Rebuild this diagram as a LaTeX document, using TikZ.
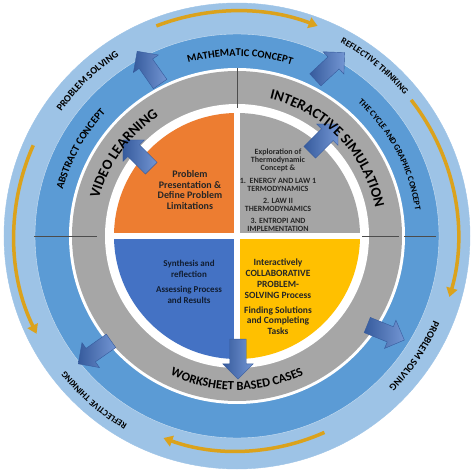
\documentclass[tikz,border=0pt]{standalone}
\usepackage{fontspec}
\setmainfont{Carlito}
\usetikzlibrary{decorations.text}
\usetikzlibrary{shapes.arrows}
\usetikzlibrary{arrows.meta}
\definecolor{outerblue}{HTML}{9DC3E6}
\definecolor{midblue}{HTML}{5B9BD5}
\definecolor{ringgray}{HTML}{A6A6A6}
\definecolor{quadorange}{HTML}{ED7D31}
\definecolor{quadgray}{HTML}{A5A5A5}
\definecolor{quadblue}{HTML}{4472C4}
\definecolor{quadyellow}{HTML}{FFC000}
\definecolor{goldarrow}{HTML}{DBA21C}
\definecolor{arrowblue}{HTML}{4472C4}
\newcommand{\bigringfont}{\bfseries\fontsize{14.5}{14.5}\selectfont}
\newcommand{\caseringfont}{\bfseries\fontsize{12.5}{12.5}\selectfont}
\newcommand{\midringfont}{\bfseries\fontsize{10.5}{10.5}\selectfont}
\newcommand{\cycleringfont}{\bfseries\fontsize{8.5}{8.5}\selectfont}
\newcommand{\outerringfont}{\bfseries\fontsize{10}{10}\selectfont}
\newcommand{\thinkringfont}{\bfseries\fontsize{9}{9}\selectfont}
\tikzset{x=1pt,y=1pt,
    ringlabel/.style={
        decorate,
        decoration={text along path,text align=center,text={#1}}},
    quadtext/.style={
        align=center,
        inner sep=0pt},
    blockarrow/.style={
        single arrow,
        draw=arrowblue!80!black,
        left color=arrowblue!80!black,
        right color=arrowblue!75!white,
        minimum height=40pt,
        minimum width=30pt,
        single arrow head extend=7pt,
        inner xsep=0pt,
        inner ysep=8pt},
    goldcurve/.style={
        draw=goldarrow,
        line width=3.5pt,
        -{Triangle[length=9pt,width=11pt]}},
    divider/.style={
        draw=black!70,
        line width=0.8pt}}

\begin{document}
\begin{tikzpicture}
    \useasboundingbox (-237,-238) rectangle (237,236);

    \fill[outerblue,draw=midblue!60] (0,0) circle[radius=233];
    \fill[midblue,draw=white!70!midblue] (0,0) circle[radius=202];
    \fill[white] (0,0) circle[radius=168];
    \fill[ringgray] (0,0) circle[radius=165];
    \fill[white] (0,0) circle[radius=132];

    \fill[quadgray] (0,0) -- (0:123) arc[start angle=0,end angle=90,radius=123] -- cycle;
    \fill[quadorange] (0,0) -- (90:123) arc[start angle=90,end angle=180,radius=123] -- cycle;
    \fill[quadblue] (0,0) -- (180:123) arc[start angle=180,end angle=270,radius=123] -- cycle;
    \fill[quadyellow] (0,0) -- (270:123) arc[start angle=270,end angle=360,radius=123] -- cycle;
    \draw[white,line width=5pt] (0,-125) -- (0,125);
    \draw[white,line width=6pt] (-125,0) -- (125,0);

    \draw[divider] (180:203) -- (180:140);
    \draw[divider] (0:125) -- (0:162);
    \draw[divider] (0:167) -- (0:199);
    \draw[divider] (90:128) -- (90:168);

    \node[quadtext,font=\bfseries\fontsize{10}{10.7}\selectfont,text=black!85] (problem) at (-47,46)
        {Problem\\Presentation \&\\Define Problem\\Limitations};
    \node[quadtext,font=\bfseries\fontsize{8}{8.1}\selectfont,text=black!85] (explore) at (41,46)
        {Exploration of\\Thermodynamic\\Concept \&\\[5pt]
         1.\ \ ENERGY AND LAW 1\\TERMODYNAMICS\\[4pt]
         2. LAW II\\THERMODYNAMICS\\[3pt]
         3. ENTROPI AND\\IMPLEMENTATION};
    \node[quadtext,font=\bfseries\fontsize{9}{10.5}\selectfont,text=quadblue!25!black] (synthesis) at (-48,-46)
        {Synthesis and\\reflection\\[5pt]Assessing Process\\and Results};
    \node[quadtext,font=\bfseries\fontsize{9.5}{10.8}\selectfont,text=black!85] (collab) at (41,-61)
        {Interactively\\COLLABORATIVE\\PROBLEM-\\SOLVING Process\\[4pt]
         Finding Solutions\\and Completing\\Tasks};

    \draw[goldcurve] (111:225) arc[start angle=111,end angle=69,radius=225];
    \draw[goldcurve] (38:221) arc[start angle=38,end angle=-16,radius=221];
    \draw[goldcurve] (-66:215) arc[start angle=-66,end angle=-110,radius=215];
    \draw[goldcurve] (156:223) arc[start angle=156,end angle=206,radius=223];

    \node[blockarrow,rotate=135] (toVideo) at (-97,79) {};
    \node[blockarrow,rotate=125] (toAbstract) at (-86,165) {};
    \node[blockarrow,rotate=43] (toReflect) at (90,167) {};
    \node[blockarrow,rotate=45] (toSimulation) at (84,95) {};
    \node[blockarrow,rotate=-22] (toSolving) at (145,-95) {};
    \node[blockarrow,rotate=-90] (toWorksheet) at (1,-119) {};
    \node[blockarrow,rotate=215] (toThinking) at (-139,-114) {};

    \path[ringlabel=|\bigringfont|VIDEO LEARNING] (184:143) arc[start angle=184,end angle=104,radius=143];
    \path[ringlabel=|\bigringfont|INTERACTIVE SIMULATION] (94:141) arc[start angle=94,end angle=-6,radius=141];
    \path[ringlabel=|\caseringfont|WORKSHEET BASED CASES] (-140:154) arc[start angle=-140,end angle=-40,radius=154];

    \path[ringlabel=|\midringfont|MATHEMATIC CONCEPT] (129:180) arc[start angle=129,end angle=49,radius=180];
    \path[ringlabel=|\midringfont|ABSTRACT CONCEPT] (191:180) arc[start angle=191,end angle=111,radius=180];
    \path[ringlabel=|\cycleringfont|THE CYCLE AND GRAPHIC CONCEPT] (68:180) arc[start angle=68,end angle=-12,radius=180];

    \path[ringlabel=|\outerringfont|PROBLEM SOLVING] (174:215) arc[start angle=174,end angle=94,radius=215];
    \path[ringlabel=|\thinkringfont|REFLECTIVE THINKING] (91:219) arc[start angle=91,end angle=11,radius=219];
    \path[ringlabel=|\outerringfont|PROBLEM SOLVING] (6:214) arc[start angle=6,end angle=-74,radius=214];
    \path[ringlabel=|\thinkringfont|REFLECTIVE THINKING] (-91:218) arc[start angle=-91,end angle=-171,radius=218];
\end{tikzpicture}
\end{document}
